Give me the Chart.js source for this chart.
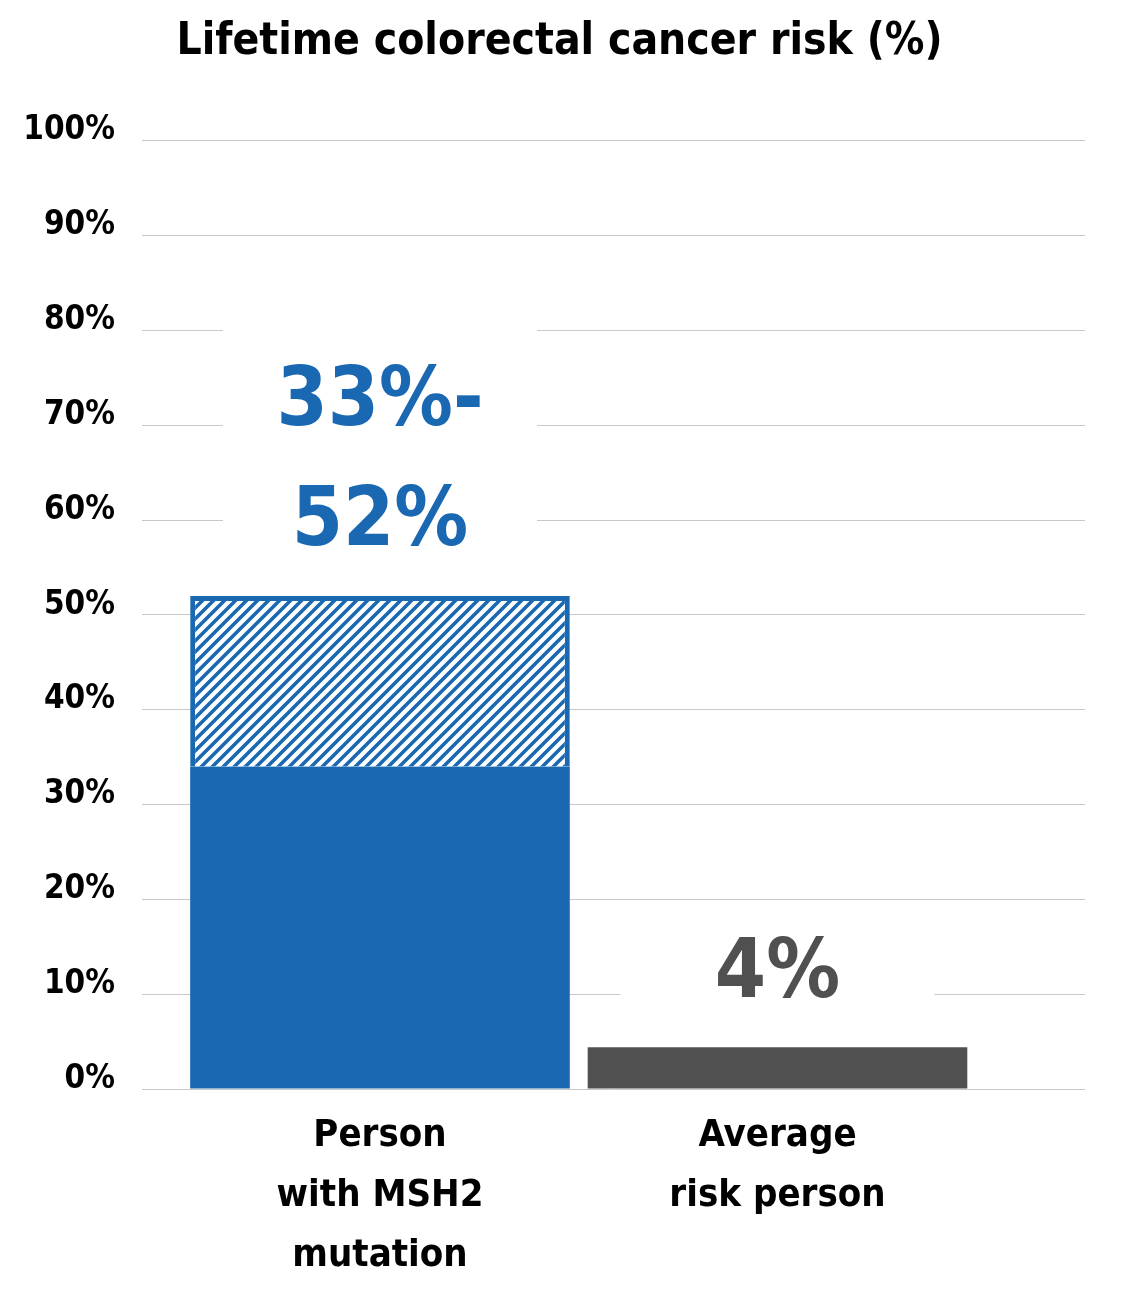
<!DOCTYPE html>
<html>
<head>
<meta charset="utf-8">
<script src="https://cdn.jsdelivr.net/npm/chart.js@4.4.1/dist/chart.umd.min.js"></script>
<style>
  html, body { margin: 0; padding: 0; background: #ffffff; }
  #wrap { position: relative; width: 1143px; height: 1303px; }
</style>
</head>
<body>
<div id="wrap"><canvas id="c" width="1143" height="1303"></canvas></div>
<script>
// ---- data ----
const titleText = 'Lifetime colorectal cancer risk (%)';
const categories = [['Person', 'with MSH2', 'mutation'], ['Average', 'risk person']];
const lowValues = [34, 4.4];          // solid part of each bar
const highValues = [52, null];        // top of the hatched range
const valueLabels = [['33%-', '52%'], ['4%']];
const yTickValues = [0, 10, 20, 30, 40, 50, 60, 70, 80, 90, 100];

const BLUE = '#1a68b2';
const GREY = '#505050';
const FONT = '"Liberation Sans Narrow", "DejaVu Sans Condensed", sans-serif';

function stripePattern(ctx) {
  const s = 11;
  const p = document.createElement('canvas');
  p.width = s; p.height = s;
  const g = p.getContext('2d');
  g.fillStyle = '#ffffff';
  g.fillRect(0, 0, s, s);
  g.strokeStyle = BLUE;
  g.lineWidth = 3.6;
  g.beginPath();
  g.moveTo(-2, s + 2); g.lineTo(s + 2, -2);
  g.moveTo(-2, 2); g.lineTo(2, -2);
  g.moveTo(s - 2, s + 2); g.lineTo(s + 2, s - 2);
  g.stroke();
  return ctx.createPattern(p, 'repeat');
}

function labelGeometry(chart, i, lines) {
  const meta = chart.getDatasetMeta(0);
  const yScale = chart.scales.y;
  const bar = meta.data[i];
  const top = yScale.getPixelForValue(highValues[i] != null ? highValues[i] : lowValues[i]);
  const lineH = 120;
  const blockH = lines.length * lineH;
  const startY = top - 12 - blockH;
  return { cx: bar.x, startY, blockH, lineH };
}

const valueLabelPlugin = {
  id: 'valueLabels',
  beforeDatasetsDraw(chart) {
    const c = chart.ctx;
    c.save();
    c.fillStyle = '#ffffff';
    valueLabels.forEach((lines, i) => {
      const g = labelGeometry(chart, i, lines);
      c.fillRect(g.cx - 157, g.startY - 14, 314, g.blockH + 2);
    });
    c.restore();
  },
  afterDatasetsDraw(chart) {
    const c = chart.ctx;
    c.save();
    c.font = 'bold 82px ' + FONT;
    c.textAlign = 'center';
    c.textBaseline = 'middle';
    valueLabels.forEach((lines, i) => {
      const g = labelGeometry(chart, i, lines);
      c.fillStyle = i === 0 ? BLUE : GREY;
      lines.forEach((t, k) => c.fillText(t, g.cx, g.startY + g.lineH * (k + 0.5)));
    });
    c.restore();
  }
};

function build() {
  const ctx = document.getElementById('c').getContext('2d');
  const pattern = stripePattern(ctx);
  new Chart(ctx, {
    type: 'bar',
    data: {
      datasets: [
        {
          label: 'low',
          data: lowValues.map((v, i) => ({ x: i, y: v })),
          backgroundColor: [BLUE, GREY],
          borderWidth: 0,
          categoryPercentage: 1,
          barPercentage: 0.955,
          order: 2
        },
        {
          label: 'range',
          data: highValues.map((v, i) => ({ x: i, y: v == null ? null : [lowValues[i], v] })),
          backgroundColor: pattern,
          borderColor: BLUE,
          borderWidth: { top: 5, left: 5, right: 5, bottom: 0 },
          borderSkipped: false,
          categoryPercentage: 1,
          barPercentage: 0.955,
          order: 1
        }
      ]
    },
    options: {
      responsive: false,
      animation: false,
      devicePixelRatio: 1,
      layout: { padding: { left: 0, right: 24, top: 0, bottom: 0 } },
      plugins: {
        legend: { display: false },
        tooltip: { enabled: false },
        title: {
          display: true,
          text: titleText,
          color: '#000000',
          font: { family: FONT, size: 44, weight: 'bold', lineHeight: 1.2 },
          padding: { top: 16, bottom: 72 }
        }
      },
      scales: {
        x: {
          type: 'linear',
          stacked: true,
          offset: false,
          bounds: 'data',
          min: -0.5987,
          max: 1.7736,
          grid: { display: false },
          border: { display: false },
          afterBuildTicks(scale) { scale.ticks = categories.map((c, i) => ({ value: i })); },
          afterFit(scale) { scale.height = 214; },
          ticks: {
            autoSkip: false,
            maxRotation: 0,
            padding: 9,
            color: '#000000',
            font: { family: FONT, size: 38, weight: 'bold', lineHeight: 1.58 },
            callback: (v) => categories[v]
          }
        },
        y: {
          min: 0,
          max: 100,
          grid: { color: '#c8c8c8', lineWidth: 1, drawTicks: false },
          border: { display: false },
          afterBuildTicks(scale) { scale.ticks = yTickValues.map(v => ({ value: v })); },
          afterFit(scale) { scale.width = 142; },
          ticks: {
            padding: 27,
            color: '#000000',
            font: { family: FONT, size: 33, weight: 'bold', lineHeight: 0.6 },
            callback: (v) => [v + '%', '']
          }
        },
        yRightSpace: {
          type: 'linear',
          position: 'right',
          display: true,
          grid: { display: false },
          border: { display: false },
          ticks: { display: false },
          afterFit(scale) { scale.width = 34; }
        }
      }
    },
    plugins: [valueLabelPlugin]
  });
}

Promise.all([
  document.fonts.load('bold 40px "Liberation Sans Narrow"'),
  document.fonts.load('bold 40px "DejaVu Sans Condensed"')
]).catch(() => {}).then(build);
</script>
</body>
</html>
